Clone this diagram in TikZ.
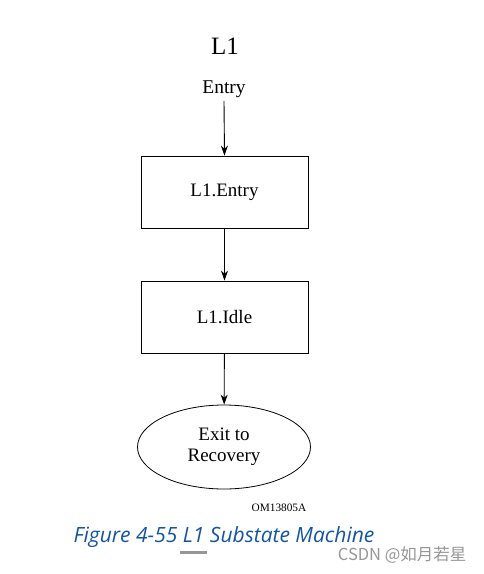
\documentclass[tikz,border=0pt]{standalone}
\usepackage{fontspec}
\setmainfont{Liberation Serif}
\newfontfamily\capfont{Open Sans}
\newfontfamily\cjk{Noto Sans CJK SC}
\usetikzlibrary{arrows.meta,positioning,shapes.geometric}
\definecolor{capblue}{RGB}{20,85,160}
\definecolor{markgray}{RGB}{150,150,150}

\begin{document}
\begin{tikzpicture}[x=1pt, y=-1pt,
  statebox/.style={draw, line width=0.8pt, minimum width=167pt, minimum height=72pt, font=\fontsize{19}{22}\selectfont},
  exitnode/.style={draw, line width=0.8pt, ellipse, minimum width=173pt, minimum height=84pt, align=center, font=\fontsize{19}{21}\selectfont},
  flow/.style={-{Stealth[length=10pt, width=7pt]}, line width=0.9pt}]

\useasboundingbox (0,0) rectangle (484,574);

\node (title) at (225,46) {\fontsize{25}{28}\selectfont L1};
\node (entry) at (224,89) {\fontsize{19.5}{22}\selectfont Entry};

\node[statebox] (l1entry) at (224.5,192) {L1.Entry};
\node[statebox] (l1idle) at (224.5,317) {L1.Idle};
\node[exitnode] (exit) at (224,447) {Exit to\\Recovery};

\draw[flow] (entry.south) -- (l1entry.north);
\draw[flow] (l1entry) -- (l1idle);
\draw[flow] (l1idle) -- (exit);

\node (omref) at (279,508) {\fontsize{11.3}{13}\selectfont OM13805A};

% caption and mark
\node[text=capblue] (caption) at (224,537) {\capfont\itshape\fontsize{21}{24}\selectfont Figure 4-55 L1 Substate Machine};
\draw[markgray, line width=3pt] (180,552) -- (207,552);
\node[text=markgray, anchor=east] (wmark) at (470,555) {\cjk\fontsize{16.5}{19}\selectfont CSDN @如月若星};

\end{tikzpicture}
\end{document}
